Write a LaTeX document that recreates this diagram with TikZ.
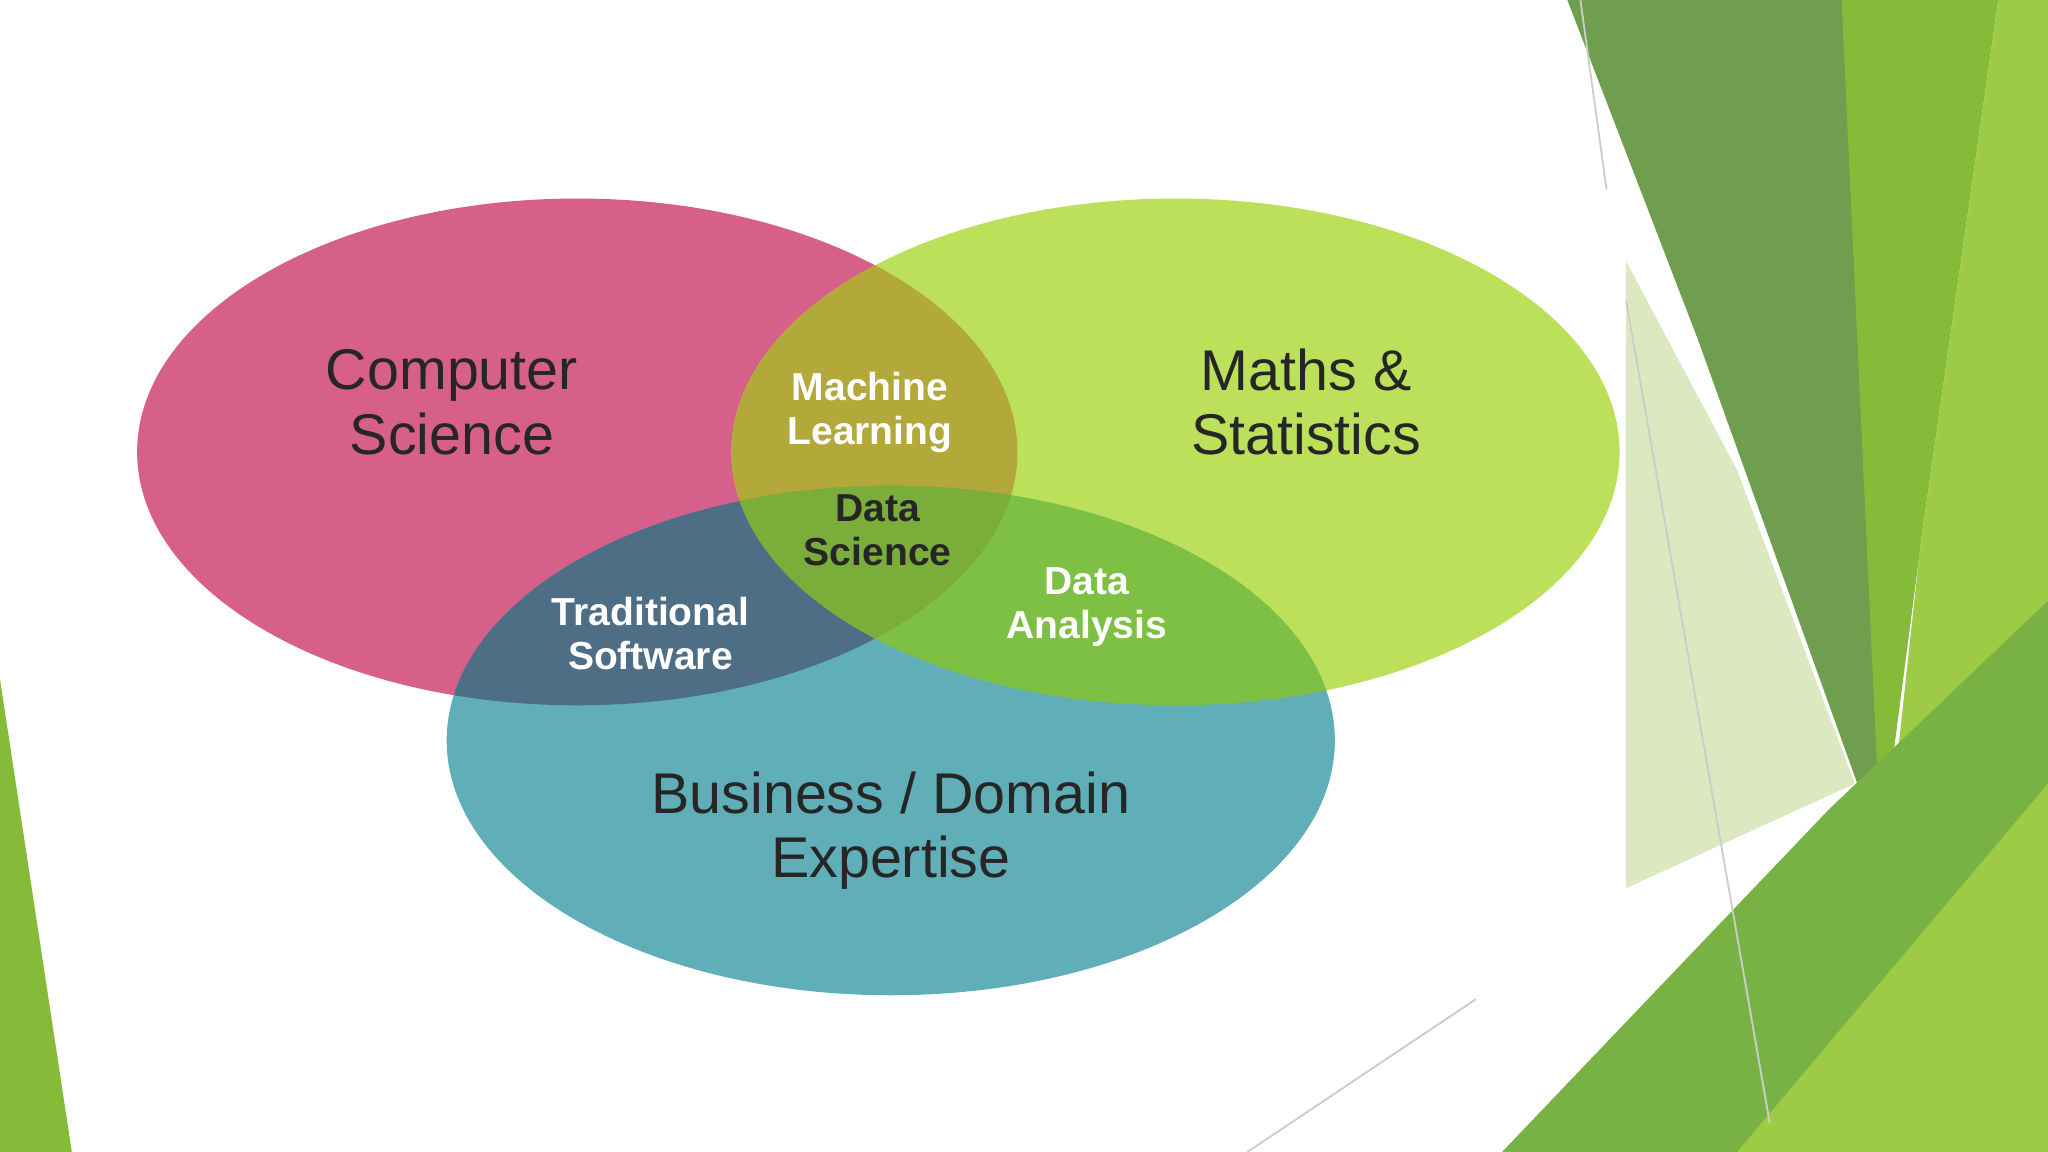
\documentclass[tikz,border=0pt]{standalone}
\usepackage{fontspec}
\setmainfont{Liberation Sans}
\definecolor{pinkc}{HTML}{D6608A}
\definecolor{greenc}{HTML}{BDE05A}
\definecolor{tealc}{HTML}{5FAEB8}
\definecolor{mlc}{HTML}{B3A83A}
\definecolor{tsc}{HTML}{4E6E85}
\definecolor{dac}{HTML}{7EC043}
\definecolor{dsc}{HTML}{7AAD3A}
\definecolor{dkg}{HTML}{6E9E4E}
\definecolor{brg}{HTML}{86BB3A}
\definecolor{ltg}{HTML}{9DCB45}
\definecolor{paleg}{HTML}{DCE9C0}
\definecolor{midg}{HTML}{78B245}
\begin{document}
\begin{tikzpicture}[x=0.01cm,y=-0.01cm,
  big/.style={font=\fontsize{12.5}{14}\selectfont, align=center, text=black!85},
  small/.style={font=\fontsize{8.5}{9.5}\selectfont\bfseries, align=center, text=white},
  smallb/.style={font=\fontsize{8.5}{9.5}\selectfont\bfseries, align=center, text=black!85}]
\useasboundingbox (0,0) rectangle (1568,882);
\fill[white] (0,0) rectangle (1568,882);
% decoration
\fill[paleg] (1245,200) -- (1330,360) -- (1420,600) -- (1245,680) -- cycle;
\fill[dkg] (1200,0) -- (1420,0) -- (1470,420) -- (1440,650) -- (1300,260) -- cycle;
\fill[brg] (1410,0) -- (1530,0) -- (1470,420) -- (1440,650) -- cycle;
\fill[ltg] (1530,0) -- (1568,0) -- (1568,882) -- (1420,882) -- (1470,420) -- cycle;
\fill[midg] (1150,882) -- (1400,620) -- (1568,460) -- (1568,882) -- cycle;
\fill[ltg] (1330,882) -- (1568,600) -- (1568,882) -- cycle;
\fill[brg] (0,520) -- (55,882) -- (0,882) -- cycle;
\draw[gray!40, thin] (1210,0) -- (1230,145);
\draw[gray!40, thin] (1245,230) -- (1355,860);
\draw[gray!40, thin] (1130,765) -- (955,882);
% ellipses
\coordinate (cP) at (442,346); \coordinate (cG) at (900,346); \coordinate (cT) at (682,567);
\fill[pinkc] (cP) ellipse [x radius=337, y radius=194];
\fill[greenc] (cG) ellipse [x radius=340, y radius=194];
\fill[tealc] (cT) ellipse [x radius=340, y radius=195];
\begin{scope}
 \clip (cP) ellipse [x radius=337, y radius=194];
 \fill[mlc] (cG) ellipse [x radius=340, y radius=194];
 \fill[tsc] (cT) ellipse [x radius=340, y radius=195];
\end{scope}
\begin{scope}
 \clip (cG) ellipse [x radius=340, y radius=194];
 \fill[dac] (cT) ellipse [x radius=340, y radius=195];
\end{scope}
\begin{scope}
 \clip (cP) ellipse [x radius=337, y radius=194];
 \clip (cG) ellipse [x radius=340, y radius=194];
 \fill[dsc] (cT) ellipse [x radius=340, y radius=195];
\end{scope}
% labels
\node[big] (cs) at (346,308) {Computer\\Science};
\node[big] (ms) at (1000,308) {Maths \&\\Statistics};
\node[big] (bd) at (682,636) {Business / Domain\\Expertise};
\node[small] (ml) at (666,316) {Machine\\Learning};
\node[smallb] (ds) at (672,406) {Data\\Science};
\node[small] (ts) at (498,485) {Traditional\\Software};
\node[small] (da) at (832,465) {Data\\Analysis};
\end{tikzpicture}
\end{document}
